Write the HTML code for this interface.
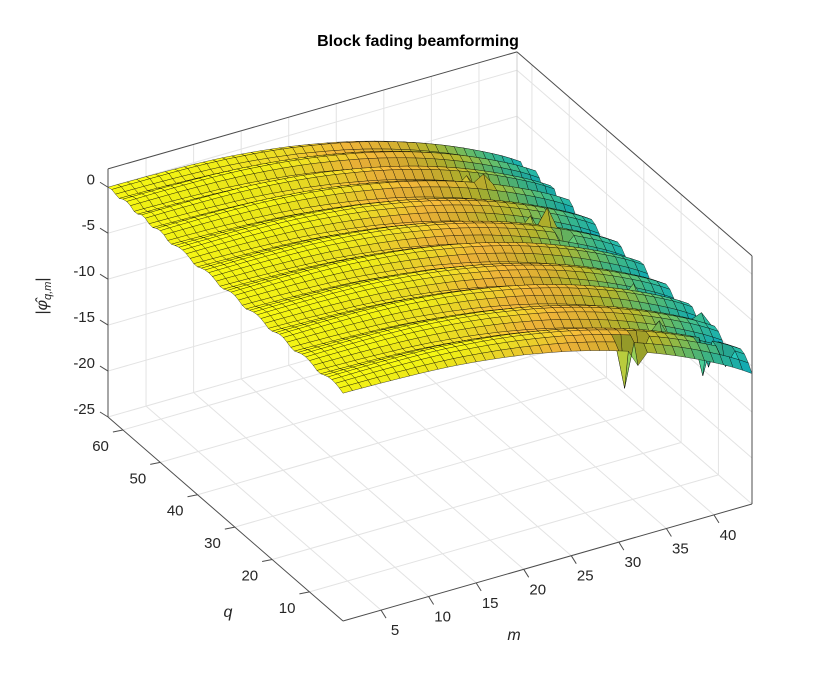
<!DOCTYPE html>
<html><head><meta charset="utf-8"><style>
html,body{margin:0;padding:0;background:#fff;}
svg{display:block;font-family:"Liberation Sans",sans-serif;}
</style></head><body>
<svg id="chart" width="830" height="699" viewBox="0 0 830 699" xmlns="http://www.w3.org/2000/svg">
<rect width="830" height="699" fill="#fff"/>
<g id="grid"></g>
<g id="surf"></g>
<g id="axes"></g>
<text x="418" y="46" text-anchor="middle" font-size="16" font-weight="bold" fill="#000">Block fading beamforming</text>
<text x="514" y="640" text-anchor="middle" font-size="16" font-style="italic" fill="#262626">m</text>
<text x="228" y="617" text-anchor="middle" font-size="16" font-style="italic" fill="#262626">q</text>
<text transform="translate(47,296) rotate(-90)" text-anchor="middle" font-size="16" fill="#262626">|<tspan font-style="italic">φ̂</tspan><tspan font-size="11" dy="4" font-style="italic">q,m</tspan><tspan dy="-4">|</tspan></text>
</svg>
<script>
const mTicks=[5,10,15,20,25,30,35,40];
const qTicks=[10,20,30,40,50,60];
const zTicks=[0,-5,-10,-15,-20,-25];
const zByM=[0,0,-0.01,-0.02,-0.03,-0.05,-0.07,-0.1,-0.13,-0.17,-0.22,-0.28,-0.35,-0.44,-0.54,-0.65,-0.77,-0.9,-1.05,-1.2,-1.38,-1.57,-1.77,-1.98,-2.2,-2.45,-2.7,-2.98,-3.27,-3.58,-3.9,-4.24,-4.6,-4.98,-5.38,-5.8,-6.24,-6.7,-7.18,-7.68,-8.2,-8.75,-9.35,-10];
const rippleByQ=[-0.4,0,0.3,0.4,0.3,0,-0.4, -0.4,0,0.3,0.4,0.3,0,-0.4, -0.3,0.1,0.4,0.4,0.1,-0.3, -0.4,0,0.3,0.4,0.3,0,-0.4, -0.3,0.1,0.4,0.4,0.1,-0.3, -0.4,0,0.3,0.4,0.3,0,-0.4, -0.4,0,0.3,0.4,0.3,0,-0.4, -0.3,0.2,0.4,0.2,-0.3, -0.2,0.3,0.3,-0.2, -0.3,0.2,0.4,0.2,-0.3, -0.1,0.2,0];
const spikeM=[31,33,40,41,42,37,36,37,38,34,35,43,39,32,44];
const spikeQ=[2,3,4,5,3,8,40,38,36,52,50,12,20,1,6];
const spikeDz=[-5,-2.5,-4,-3,-2,1.5,1.5,2,-1.5,1.2,1.0,1,1.5,-1.5,-1];

const NS="http://www.w3.org/2000/svg";
const M0=1,M1=44,Q0=1,Q1=64,Z0=-25,Z1=2;
function P(m,q,z){
  const a=(m-M0)/(M1-M0), b=(q-Q0)/(Q1-Q0);
  return [343+a*409+b*(108-343), 621-a*117+b*(417-621)-(z-Z0)*9.19];
}
function mk(tag,attrs,parent){const e=document.createElementNS(NS,tag);for(const k in attrs)e.setAttribute(k,attrs[k]);parent.appendChild(e);return e;}
function line(p1,p2,col,w,parent,name){
  const e=mk('line',{x1:p1[0],y1:p1[1],x2:p2[0],y2:p2[1],stroke:col,'stroke-width':w},parent);
  
  
  return e;
}
const grid=document.getElementById('grid'),axes=document.getElementById('axes'),surf=document.getElementById('surf');
const gc='#e3e3e3';
mTicks.forEach(m=>{
  line(P(m,Q1,Z0),P(m,Q1,Z1),gc,1,grid,'grid-line-m-wall');
  line(P(m,Q0,Z0),P(m,Q1,Z0),gc,1,grid,'grid-line-m-floor');
});
qTicks.forEach(q=>{
  line(P(M1,q,Z0),P(M1,q,Z1),gc,1,grid,'grid-line-q-wall');
  line(P(M0,q,Z0),P(M1,q,Z0),gc,1,grid,'grid-line-q-floor');
});
zTicks.forEach(z=>{
  line(P(M0,Q1,z),P(M1,Q1,z),gc,1,grid,'grid-line-z-back');
  line(P(M1,Q1,z),P(M1,Q0,z),gc,1,grid,'grid-line-z-right');
});
line(P(M1,Q1,Z0),P(M1,Q1,Z1),'#cfcfcf',1,grid,'box-back-edge');
const Z=[];
for(let i=0;i<zByM.length;i++){Z.push([]);for(let j=0;j<rippleByQ.length;j++){
  const mm=i+1;Z[i].push(zByM[i]+rippleByQ[j]*1.5*(0.35+(mm-1)/43));}}
for(let k=0;k<spikeM.length;k++){const i=spikeM[k]-1,j=spikeQ[k]-1;if(Z[i]&&Z[i][j]!==undefined)Z[i][j]+=spikeDz[k];}
const stops=[[0,[249,250,20]],[-1,[246,226,40]],[-2.2,[252,190,60]],[-3.5,[232,186,52]],[-5,[190,192,48]],[-6.5,[120,200,100]],[-8,[60,195,150]],[-10,[22,190,195]],[-13,[30,150,225]],[-20,[40,90,230]]];
function col(z){
  if(z>=stops[0][0])return stops[0][1];
  for(let k=1;k<stops.length;k++){if(z>=stops[k][0]){const a=stops[k-1],b=stops[k];const t=(a[0]-z)/(a[0]-b[0]);return a[1].map((v,c)=>Math.round(v+(b[1][c]-v)*t));}}
  return stops[stops.length-1][1];
}
const quads=[];
for(let i=0;i<zByM.length-1;i++)for(let j=0;j<rippleByQ.length-1;j++)quads.push([i,j]);
quads.sort((a,b)=>((b[0]/43+b[1]/63)-(a[0]/43+a[1]/63)));
quads.forEach(([i,j])=>{
  const m=i+1,q=j+1;
  const p=[P(m,q,Z[i][j]),P(m+1,q,Z[i+1][j]),P(m+1,q+1,Z[i+1][j+1]),P(m,q+1,Z[i][j+1])];
  const z=(Z[i][j]+Z[i+1][j]+Z[i+1][j+1]+Z[i][j+1])/4;
  const c=col(z);
  const slope=((Z[i][j+1]+Z[i+1][j+1])-(Z[i][j]+Z[i+1][j]))/2;
  const f=Math.max(0.8,Math.min(1.05,1-slope*0.12));
  const e=mk('polygon',{points:p.map(v=>v[0].toFixed(1)+','+v[1].toFixed(1)).join(' '),fill:`rgb(${Math.min(255,Math.round(c[0]*f))},${Math.min(255,Math.round(c[1]*f))},${Math.min(255,Math.round(c[2]*f))})`,stroke:'rgba(0,0,0,0.7)','stroke-width':0.5,'stroke-linejoin':'round'},surf);
  
  
});
const ac='#4d4d4d';
line(P(M0,Q1,Z0),P(M0,Q1,Z1),ac,1,axes,'z-axis-line');
line(P(M0,Q1,Z1),P(M1,Q1,Z1),ac,1,axes,'box-top-back');
line(P(M1,Q1,Z1),P(M1,Q0,Z1),ac,1,axes,'box-top-right');
line(P(M1,Q0,Z1),P(M1,Q0,Z0),ac,1,axes,'box-right-edge');
line(P(M0,Q1,Z0),P(M0,Q0,Z0),ac,1,axes,'q-axis-line');
line(P(M0,Q0,Z0),P(M1,Q0,Z0),ac,1,axes,'m-axis-line');
function label(x,y,t,anchor,name){
  const e=mk('text',{x:x,y:y,'text-anchor':anchor,'font-size':15,fill:'#262626'},axes);
  e.textContent=t;
  
  
}
zTicks.forEach(z=>{const p=P(M0,Q1,z);line(p,[p[0]-8,p[1]-5],ac,1,axes,'z-tick');label(p[0]-13,p[1]-3,String(z),'end','z-tick-label');});
mTicks.forEach(m=>{const p=P(m,Q0,Z0);line(p,[p[0]+5,p[1]+8],ac,1,axes,'m-tick');label(p[0]+14,p[1]+25,String(m),'middle','m-tick-label');});
qTicks.forEach(q=>{const p=P(M0,q,Z0);line(p,[p[0]-10,p[1]+2],ac,1,axes,'q-tick');label(p[0]-14,p[1]+21,String(q),'end','q-tick-label');});
</script>
</body></html>
